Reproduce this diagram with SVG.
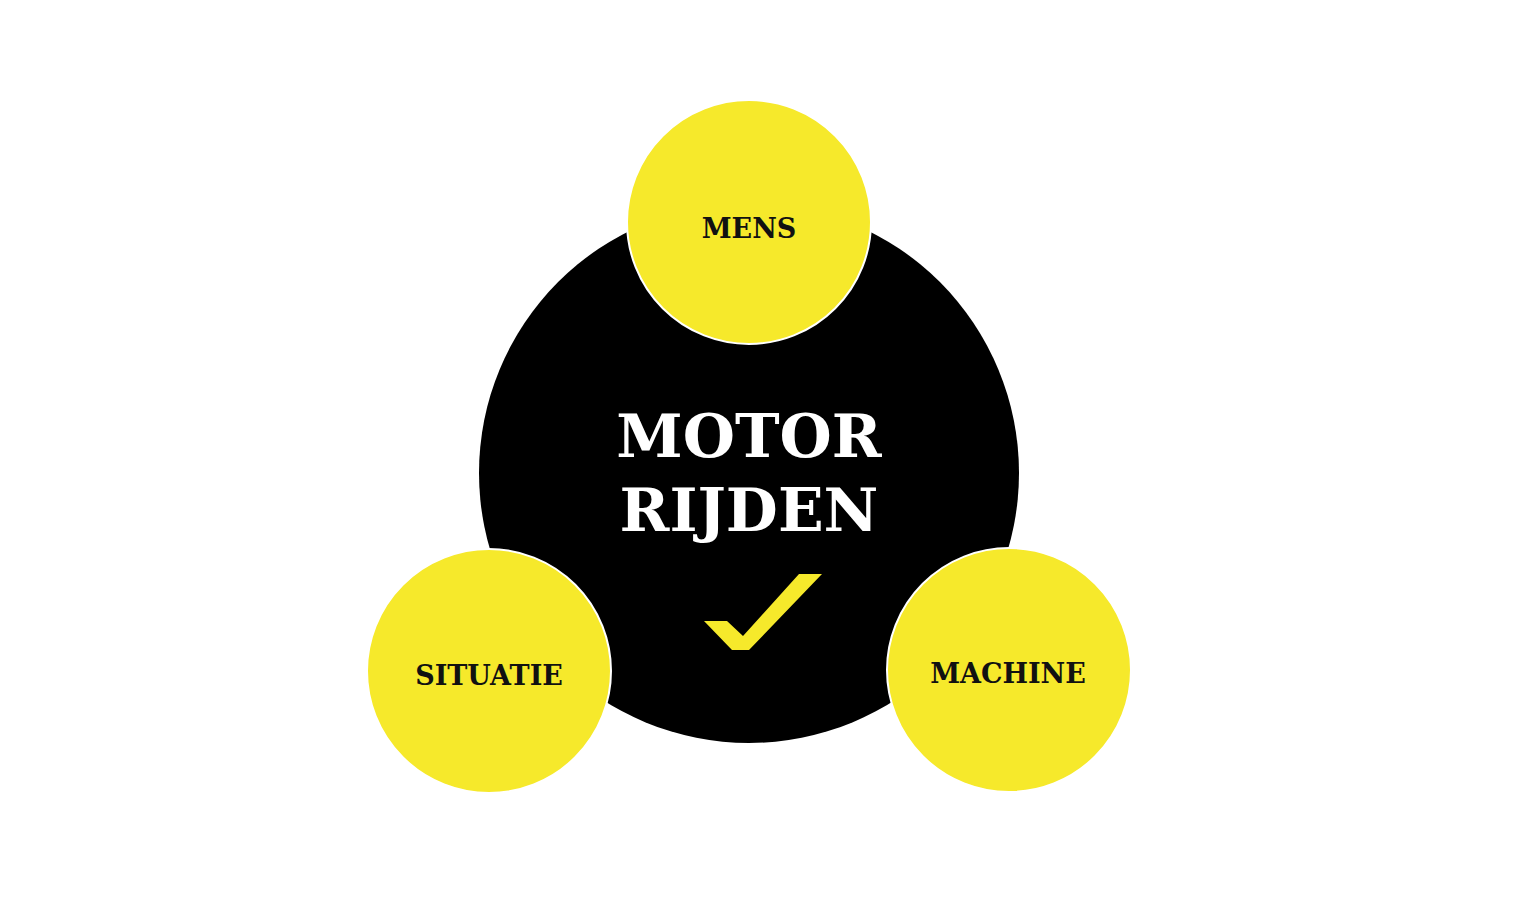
<svg xmlns="http://www.w3.org/2000/svg" width="1536" height="903" viewBox="0 0 1536 903">
<style>
.y{fill:#f6e92b;stroke:#fff;stroke-width:2}
.lbl{font-family:"DejaVu Serif","Liberation Serif",serif;font-weight:bold;font-size:27px;fill:#111;text-anchor:middle}
.big{font-family:"DejaVu Serif","Liberation Serif",serif;font-weight:bold;font-size:60px;fill:#fff;text-anchor:middle}
</style>
<rect width="1536" height="903" fill="#fff"/>
<g id="center">
<circle cx="749" cy="473" r="270" fill="#000"/>
<text class="big" x="749" y="457">MOTOR</text>
<text class="big" x="749" y="531">RIJDEN</text>
<polygon points="704,621 727,621 743,636 799,574 822,574 749,650 732,650" fill="#f6e92b"/>
</g>
<g id="connectors"></g>
<g id="mens"><circle class="y" cx="749" cy="222" r="122"/><text class="lbl" x="749" y="238">MENS</text></g>
<g id="situatie"><circle class="y" cx="489" cy="671" r="122"/><text class="lbl" x="489" y="685">SITUATIE</text></g>
<g id="machine"><circle class="y" cx="1009" cy="670" r="122"/><text class="lbl" x="1008" y="683">MACHINE</text></g>
</svg>
